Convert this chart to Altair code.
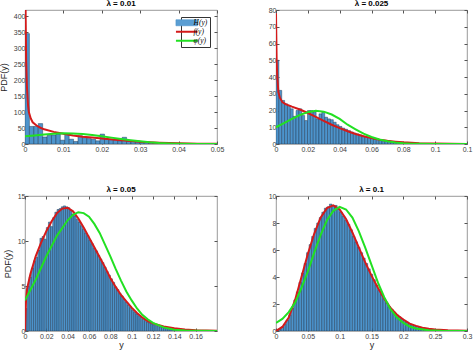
import altair as alt
import pandas as pd

# ---------------- data ----------------
SERIES = ["H(y)", "f(y)", "φ(y)"]
COLORS = ["#4d94cc", "#d41a1a", "#22e022"]

# panel 1 : lambda = 0.01
h1_width = 0.00115
h1_values = [346, 55, 55, 64, 22, 27, 28, 31, 12, 30, 15, 8, 26, 20, 17, 15, 10, 31,
             16, 14, 12, 10, 21, 9, 8, 7, 6, 5, 4, 3.5, 3, 2.5, 2, 1.5, 1.2, 1, 0.8,
             0.6, 0.5, 0.4, 0.3, 0.2, 0.15, 0.1]
f1_x = [0.0001, 0.0003, 0.0005, 0.0008, 0.001, 0.0015, 0.002, 0.003, 0.004, 0.005, 0.0075,
        0.01, 0.0125, 0.015, 0.0175, 0.02, 0.025, 0.03, 0.035, 0.04, 0.045, 0.05]
f1_y = [480, 260, 180, 120, 100, 80, 68, 58, 51, 46, 38, 32, 27, 23, 20, 17, 12, 7, 4, 2, 1, 0.5]
g1_x = [0, 0.0025, 0.005, 0.0075, 0.01, 0.0125, 0.015, 0.0175, 0.02, 0.0225, 0.025, 0.0275,
        0.03, 0.0325, 0.035, 0.0375, 0.04, 0.045, 0.05]
g1_y = [24, 27, 30, 32.5, 33.5, 33, 31, 28, 24, 20, 16, 12, 8.5, 5.5, 3.3, 1.8, 0.9, 0.2, 0.05]

# panel 2 : lambda = 0.025
h2_width = 0.0018
h2_values = [50, 32, 26, 24, 23, 21, 16.5, 20, 21, 17, 14, 20, 20, 19, 15, 18, 19, 16, 15,
             14.5, 13, 11.5, 10.5, 9.5, 8.8, 8, 7.2, 6.5, 6, 5.4, 4.8, 4.3, 3.8, 3.4, 3.0,
             2.7, 2.4, 2.1, 1.8, 1.6, 1.4, 1.2, 1.05, 0.9, 0.8, 0.7, 0.6, 0.5, 0.42, 0.36,
             0.3, 0.26, 0.22, 0.18, 0.15, 0.12, 0.1, 0.08, 0.07, 0.06]
f2_x = [0, 0.0004, 0.0008, 0.0015, 0.0025, 0.004, 0.006, 0.01, 0.015, 0.02, 0.025, 0.03,
        0.035, 0.04, 0.045, 0.05, 0.055, 0.06, 0.065, 0.07, 0.075, 0.08, 0.09, 0.1, 0.11, 0.12]
f2_y = [78, 50, 40, 31, 27.5, 25, 23.8, 22.3, 20.6, 18.5, 16.2, 13.8, 11.5, 9.5, 7.6, 6.0,
        4.6, 3.5, 2.6, 1.9, 1.4, 1.0, 0.5, 0.25, 0.12, 0.06]
g2_x = [0, 0.005, 0.01, 0.015, 0.02, 0.025, 0.03, 0.035, 0.04, 0.045, 0.05, 0.055, 0.06,
        0.065, 0.07, 0.075, 0.08, 0.085, 0.09, 0.1, 0.12]
g2_y = [10, 12.5, 15, 17.3, 19, 19.8, 19.3, 17.6, 15, 11.5, 8.8, 6.2, 4.2, 2.7, 1.6, 0.9,
        0.45, 0.2, 0.1, 0.02, 0]

# panel 3 : lambda = 0.05
h3_width = 0.002
h3_values = [2.5, 5.0, 6.0, 7.0, 7.8, 8.2, 9.0, 10.3, 10.5, 10.2, 11.5, 12.1, 11.6, 12.6,
             13.2, 13.5, 13.6, 13.8, 13.9, 13.8, 13.7, 13.4, 13.0, 12.8, 12.4, 12.1, 11.7,
             11.3, 10.9, 10.6, 10.1, 9.7, 9.2, 8.9, 8.4, 8.0, 7.6, 7.1, 6.6, 6.2, 5.8, 5.4,
             4.9, 4.6, 4.2, 3.9, 3.5, 3.2, 2.9, 2.6, 2.3, 2.1, 1.9, 1.7, 1.5, 1.3, 1.15, 1.0,
             0.9, 0.8, 0.7, 0.6, 0.52, 0.45, 0.4, 0.34, 0.3, 0.26, 0.22, 0.19, 0.16, 0.14,
             0.12, 0.1, 0.09, 0.08, 0.07, 0.06, 0.05, 0.04, 0.035, 0.03, 0.025, 0.02, 0.02,
             0.015, 0.01, 0.01, 0.01, 0.005]
f3_x = [0, 0.001, 0.002, 0.005, 0.01, 0.015, 0.02, 0.025, 0.03, 0.035, 0.04, 0.045, 0.05,
        0.055, 0.06, 0.065, 0.07, 0.075, 0.08, 0.085, 0.09, 0.095, 0.1, 0.105, 0.11, 0.115,
        0.12, 0.13, 0.14, 0.15, 0.16, 0.17, 0.18]
f3_y = [0, 3.5, 4.7, 6.3, 8.3, 9.8, 11.1, 12.2, 13.1, 13.6, 13.7, 13.3, 12.5, 11.5, 10.4,
        9.3, 8.2, 7.1, 5.9, 4.9, 4.0, 3.3, 2.6, 2.0, 1.5, 1.1, 0.85, 0.5, 0.3, 0.17, 0.09,
        0.05, 0.03]
g3_x = [0, 0.01, 0.02, 0.03, 0.04, 0.045, 0.05, 0.055, 0.06, 0.065, 0.07, 0.075, 0.08,
        0.085, 0.09, 0.095, 0.1, 0.105, 0.11, 0.115, 0.12, 0.13, 0.14, 0.15, 0.16, 0.18]
g3_y = [3.4, 5.7, 8.3, 10.6, 12.3, 12.9, 13.2, 13.1, 12.7, 11.9, 10.9, 9.6, 8.3, 6.9, 5.6,
        4.4, 3.4, 2.5, 1.8, 1.3, 0.9, 0.4, 0.15, 0.05, 0.02, 0]

# panel 4 : lambda = 0.1
h4_width = 0.004
h4_values = [0.05, 0.15, 0.3, 0.5, 0.8, 1.2, 1.7, 2.3, 2.9, 3.6, 4.3, 5.0, 5.8, 6.4, 7.0,
             7.6, 8.0, 8.4, 8.8, 9.1, 9.2, 9.4, 9.3, 9.3, 9.0, 8.8, 8.5, 8.2, 7.9, 7.5, 7.0,
             6.6, 6.2, 5.8, 5.4, 5.0, 4.6, 4.2, 3.8, 3.4, 3.0, 2.7, 2.4, 2.1, 1.8, 1.6, 1.4,
             1.2, 1.05, 0.9, 0.78, 0.66, 0.56, 0.47, 0.4, 0.34, 0.29, 0.24, 0.2, 0.17, 0.14,
             0.12, 0.1, 0.08, 0.07, 0.06, 0.05, 0.04, 0.03, 0.03, 0.02, 0.02, 0.01, 0.01, 0.01]
f4_x = [0, 0.01, 0.02, 0.03, 0.04, 0.05, 0.06, 0.07, 0.08, 0.09, 0.1, 0.11, 0.12, 0.13,
        0.14, 0.15, 0.16, 0.17, 0.18, 0.19, 0.2, 0.21, 0.22, 0.23, 0.24, 0.25, 0.27, 0.3]
f4_y = [0, 0.3, 1.0, 2.3, 4.0, 5.7, 7.2, 8.4, 9.1, 9.3, 9.0, 8.3, 7.3, 6.2, 5.1, 4.1, 3.2,
        2.4, 1.7, 1.2, 0.85, 0.55, 0.38, 0.25, 0.17, 0.11, 0.05, 0.02]
g4_x = [0, 0.01, 0.02, 0.03, 0.04, 0.05, 0.06, 0.07, 0.08, 0.09, 0.1, 0.11, 0.12, 0.13,
        0.14, 0.15, 0.16, 0.17, 0.18, 0.19, 0.2, 0.21, 0.22, 0.24, 0.26, 0.3]
g4_y = [0.6, 0.9, 1.4, 2.1, 3.2, 4.4, 5.8, 7.1, 8.2, 8.9, 9.2, 9.0, 8.4, 7.4, 6.2, 4.9, 3.6,
        2.5, 1.6, 1.0, 0.6, 0.33, 0.18, 0.05, 0.01, 0]

FONT = "Liberation Sans"
INWARD = {"expr": "-3"}
TICK = "#555555"


def panel(title, width, height, hw, hv, fx, fy, gx, gy, xdom, xticks, ydom, yticks,
          ytitle, xtitle, legend, toff):
    bars = pd.DataFrame({
        "x0": [i * hw for i in range(len(hv))],
        "x1": [(i + 1) * hw for i in range(len(hv))],
        "v": hv,
    })
    lines = pd.DataFrame({
        "x": list(fx) + list(gx),
        "y": list(fy) + list(gy),
        "s": [SERIES[1]] * len(fx) + [SERIES[2]] * len(gx),
    })
    xs = alt.Scale(domain=xdom, nice=False, zero=False)
    ys = alt.Scale(domain=ydom, nice=False)
    b = alt.Chart(bars).mark_rect(
        fill=COLORS[0], stroke="#1c3650", strokeWidth=0.5, strokeOpacity=0.9, clip=True
    ).encode(
        x=alt.X("x0:Q", scale=xs, axis=alt.Axis(
            values=xticks, format="~g", title=xtitle, tickSize=INWARD, labelPadding=4,
            tickColor=TICK, labelFlush=False, grid=False, titlePadding=1)),
        x2="x1:Q",
        y=alt.Y("v:Q", scale=ys, axis=alt.Axis(
            values=yticks, title=ytitle, tickSize=INWARD, labelPadding=3,
            tickColor=TICK, titlePadding=5, grid=False)),
        y2=alt.datum(0),
    )
    if legend:
        leg = alt.Legend(
            orient="top-right", offset=7, padding=2, title=None,
            strokeColor="#333333", fillColor="white",
            labelFont="Liberation Serif", labelFontStyle="italic", labelFontSize=7.5,
            labelColor="black", symbolSize=36,
            symbolType={"expr": "datum.value === 'H(y)' ? 'M-3.6,-1H3.6V1H-3.6Z' : 'M-3.6,0H3.6'"},
            symbolFillColor={"expr": "datum.value === 'H(y)' ? '#5a9ed3' : 'transparent'"},
            symbolStrokeColor={"expr": "datum.value === 'H(y)' ? '#333333' : (datum.value === 'f(y)' ? '#d41a1a' : '#22e022')"},
            symbolStrokeWidth={"expr": "datum.value === 'H(y)' ? 0.6 : 2"},
            rowPadding=0, labelOffset=3,
        )
    else:
        leg = None
    ln = alt.Chart(lines).mark_line(strokeWidth=2, clip=True).encode(
        x=alt.X("x:Q", scale=xs, axis=alt.Axis(
            orient="top", values=xticks, labels=False, title=None, tickSize=INWARD,
            tickColor=TICK, grid=False)),
        y=alt.Y("y:Q", scale=ys, axis=alt.Axis(
            orient="right", values=yticks, labels=False, title=None, tickSize=INWARD,
            tickColor=TICK, grid=False)),
        color=alt.Color("s:N", scale=alt.Scale(domain=SERIES, range=COLORS), legend=leg),
    )
    return alt.layer(b, ln).resolve_axis(x="independent", y="independent").properties(
        width=width, height=height,
        title=alt.TitleParams(title, fontSize=8, fontWeight="bold", font=FONT,
                              color="black", offset=toff, frame="group"),
    )


p1 = panel("λ = 0.01", 192, 134, h1_width, h1_values, f1_x, f1_y, g1_x, g1_y,
           [0, 0.05], [0, 0.01, 0.02, 0.03, 0.04, 0.05], [0, 420],
           [0, 50, 100, 150, 200, 250, 300, 350, 400], "PDF(y)", None, True, 2)
p2 = panel("λ = 0.025", 191, 134, h2_width, h2_values, f2_x, f2_y, g2_x, g2_y,
           [0, 0.12], [0, 0.02, 0.04, 0.06, 0.08, 0.1, 0.12], [0, 80],
           [0, 10, 20, 30, 40, 50, 60, 70, 80], None, None, False, -1.5)
p3 = panel("λ = 0.05", 192, 135, h3_width, h3_values, f3_x, f3_y, g3_x, g3_y,
           [0, 0.18], [0, 0.02, 0.04, 0.06, 0.08, 0.1, 0.12, 0.14, 0.16], [0, 15],
           [0, 5, 10, 15], "PDF(y)", "y", False, -1.5)
p4 = panel("λ = 0.1", 191, 135, h4_width, h4_values, f4_x, f4_y, g4_x, g4_y,
           [0, 0.3], [0, 0.05, 0.1, 0.15, 0.2, 0.25, 0.3], [0, 10],
           [0, 2, 4, 6, 8, 10], None, "y", False, -1.5)

chart = alt.ConcatChart(
    concat=[p1, p2, p3, p4], columns=2, spacing={"row": 52, "column": 59}, bounds="flush"
).resolve_scale(color="independent").resolve_legend(color="independent").properties(
    autosize=alt.AutoSizeParams(type="none"),
    padding={"left": 25, "top": 10, "right": 449, "bottom": 343},
).configure_view(stroke="#808080", strokeWidth=0.8).configure_axis(
    grid=False, domain=False, labelFont=FONT, labelFontSize=7, labelColor="#404040",
    titleFont=FONT, titleFontSize=9, titleFontWeight="normal", titleColor="#262626",
)

chart.save("out.html", embed_options={"renderer": "svg", "actions": False})
